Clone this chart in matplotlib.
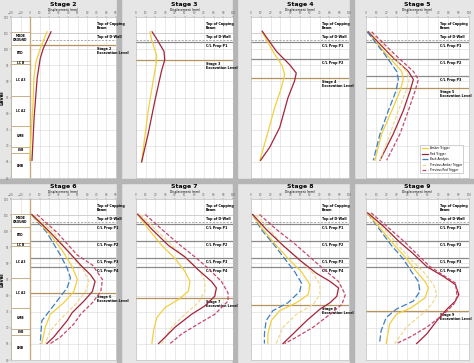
import numpy as np
import matplotlib.pyplot as plt
from matplotlib.patches import Rectangle

# ---------------------------------------------------------------- data
# levels (mOD) and displacements (mm)
stage2_amber_lvl = [105.4, 100.2, 96.2, 91.0, 83.9, 65.5]
stage2_amber = [17.7, 10.6, 6.3, 4.0, 3.2, -0.5]
stage2_red_lvl = [105.4, 100.2, 97.1, 91.0, 78.7, 65.5]
stage2_red = [21.9, 13.8, 10.6, 7.4, 4.2, 2.0]

stage3_amber_lvl = [105.4, 102.3, 98.3, 96.2, 90.2, 81.0, 65.0]
stage3_amber = [14.3, 16.6, 21.1, 21.1, 17.7, 12.6, 5.8]
stage3_red_lvl = [105.4, 103.3, 99.3, 96.7, 93.1, 83.9, 73.8, 65.0]
stage3_red = [16.6, 21.1, 28.9, 29.6, 26.2, 19.4, 12.6, 5.8]

stage4_amber_lvl = [105.4, 99.3, 94.7, 92.1, 88.0, 81.9, 72.7, 65.5]
stage4_amber = [11.4, 22.5, 32.0, 34.3, 31.0, 24.2, 15.8, 9.1]
stage4_red_lvl = [105.6, 99.3, 95.2, 92.6, 90.1, 84.9, 75.7, 69.6, 65.5]
stage4_red = [11.4, 26.0, 39.4, 46.2, 44.4, 37.7, 29.3, 19.2, 9.8]

stage5_lvl = [105.4, 98.3, 93.1, 90.6, 87.0, 80.9, 73.7, 65.5]
stage5_amber = [1.3, 20.1, 34.7, 36.2, 33.0, 25.0, 15.2, 8.7]
stage5_red = [2.3, 23.3, 41.1, 46.0, 42.7, 36.2, 26.5, 13.6]
stage5_back = [1.3, 18.4, 29.8, 31.4, 29.1, 21.7, 13.6, 7.1]
stage5_prev_amber = [3.9, 25.0, 39.5, 42.1, 38.8, 31.4, 23.3, 13.6]
stage5_prev_red = [5.5, 28.2, 46.0, 50.8, 47.6, 41.1, 33.0, 20.1]

stage6_red_lvl = [105.2, 99.6, 94.1, 89.5, 86.4, 84.4, 81.3, 78.3, 74.7, 72.2, 67.1, 65.1]
stage6_red = [1.8, 21.2, 38.8, 52.9, 63.5, 68.1, 65.3, 56.4, 44.1, 38.8, 24.7, 17.6]
stage6_prev_red_lvl = [105.2, 99.6, 92.6, 89.5, 85.0, 81.3, 77.8, 74.2, 71.2, 67.1, 65.1]
stage6_prev_red = [7.1, 28.2, 49.4, 65.3, 75.8, 74.1, 65.3, 52.9, 45.9, 31.7, 21.2]
stage6_amber_lvl = [105.0, 99.6, 94.1, 89.0, 85.0, 81.3, 77.8, 74.2, 70.2, 65.1]
stage6_amber = [1.8, 19.4, 33.5, 44.1, 49.4, 45.9, 35.3, 21.2, 15.9, 12.3]
stage6_prev_amber_lvl = [105.0, 99.6, 92.6, 88.5, 84.4, 81.3, 77.3, 73.2, 69.1, 65.1]
stage6_prev_amber = [3.5, 24.7, 42.3, 54.7, 61.7, 58.2, 47.6, 33.5, 21.2, 15.9]
stage6_back_lvl = [105.0, 99.6, 92.6, 88.5, 85.5, 82.4, 78.3, 74.2, 72.2, 65.1]
stage6_back = [1.8, 17.6, 31.7, 38.8, 42.3, 38.8, 28.2, 17.6, 12.3, 10.6]

stage7_red_lvl = [105.3, 100.6, 95.6, 92.0, 88.0, 84.4, 82.4, 79.8, 76.8, 74.2, 70.2, 67.1, 65.1]
stage7_red = [1.7, 16.4, 33.4, 50.5, 64.2, 77.8, 82.9, 81.2, 71.0, 57.3, 40.3, 30.0, 23.2]
stage7_prev_red_lvl = [105.2, 100.6, 96.1, 92.0, 88.5, 84.4, 80.8, 78.3, 74.2, 71.2, 68.1, 65.1]
stage7_prev_red = [9.5, 26.6, 43.7, 60.8, 74.4, 88.1, 94.9, 94.9, 81.2, 64.2, 47.1, 35.2]
stage7_amber_lvl = [105.2, 100.6, 95.6, 91.5, 87.5, 84.4, 81.3, 78.8, 76.3, 73.2, 69.1, 65.1]
stage7_amber = [1.7, 12.9, 26.6, 40.3, 50.5, 55.6, 53.9, 43.7, 30.0, 21.5, 18.1, 16.4]
stage7_prev_amber_lvl = [105.2, 100.6, 95.6, 91.0, 87.5, 84.4, 81.3, 77.8, 74.2, 70.2, 65.1]
stage7_prev_amber = [4.4, 19.8, 36.9, 53.9, 65.9, 71.0, 71.0, 64.2, 50.5, 36.9, 26.6]

stage8_red_lvl = [105.2, 100.6, 95.6, 91.0, 86.9, 84.4, 82.4, 79.8, 77.8, 75.8, 72.2, 68.1, 65.1]
stage8_red = [1.7, 15.4, 32.6, 49.8, 66.9, 80.7, 89.3, 87.6, 80.7, 70.4, 56.7, 42.9, 32.6]
stage8_prev_red_lvl = [105.2, 100.6, 96.1, 91.5, 87.4, 84.4, 80.3, 77.3, 74.2, 70.2, 67.1, 65.1]
stage8_prev_red = [8.6, 25.7, 44.6, 61.8, 77.2, 89.3, 96.2, 92.8, 80.7, 63.5, 46.4, 34.3]
stage8_amber_lvl = [105.0, 100.6, 95.6, 91.0, 87.4, 83.4, 80.3, 77.8, 75.3, 72.2, 68.1, 65.1]
stage8_amber = [1.7, 12.0, 25.7, 39.5, 51.5, 60.1, 58.4, 46.4, 29.2, 20.6, 17.2, 17.2]
stage8_prev_amber_lvl = [105.0, 100.6, 95.6, 91.0, 86.9, 83.4, 80.3, 77.3, 74.2, 70.2, 65.1]
stage8_prev_amber = [5.1, 18.9, 32.6, 49.8, 63.5, 70.4, 70.4, 63.5, 46.4, 32.6, 25.7]
stage8_back_lvl = [105.2, 100.6, 95.6, 91.5, 87.4, 83.9, 81.3, 77.8, 75.3, 72.2, 68.1, 65.1]
stage8_back = [1.7, 10.3, 24.0, 34.3, 44.6, 51.5, 49.8, 37.8, 22.3, 15.4, 13.7, 13.7]

stage9_red_lvl = [105.7, 101.7, 96.6, 93.0, 89.0, 85.9, 83.4, 80.3, 78.3, 75.8, 72.2, 68.1, 65.1]
stage9_red = [1.6, 16.4, 32.7, 45.9, 59.0, 75.4, 86.8, 90.1, 86.8, 78.6, 68.8, 59.0, 49.1]
stage9_prev_red_lvl = [105.7, 101.7, 96.6, 93.0, 89.0, 85.9, 83.9, 79.8, 77.3, 74.2, 70.2, 67.1, 65.1]
stage9_prev_red = [4.9, 19.6, 37.7, 49.1, 62.2, 77.0, 86.8, 88.5, 85.2, 75.4, 59.0, 42.6, 29.5]
stage9_amber_lvl = [105.5, 100.6, 95.6, 91.5, 87.4, 84.4, 82.4, 79.3, 76.3, 74.2, 71.2, 65.1]
stage9_amber = [1.6, 14.7, 27.8, 39.3, 49.1, 57.3, 60.6, 57.3, 44.2, 29.5, 22.9, 19.6]
stage9_prev_amber_lvl = [105.5, 100.6, 95.6, 91.0, 87.4, 83.4, 80.3, 77.3, 74.2, 70.2, 65.1]
stage9_prev_amber = [3.2, 18.0, 31.1, 44.2, 55.7, 65.5, 68.8, 63.9, 54.1, 39.3, 27.8]
stage9_back_lvl = [105.5, 100.6, 95.6, 91.5, 87.4, 84.4, 81.3, 78.3, 75.8, 73.2, 69.1, 65.1]
stage9_back = [1.6, 13.1, 24.6, 36.0, 44.2, 50.8, 52.4, 45.9, 29.5, 19.6, 14.7, 13.1]

# reference levels
capping_beam = 105.0
dwall_top = 103.0
prop_levels = [102.1, 96.9, 91.7, 88.9]
prop_names = ["C/L Prop P1", "C/L Prop P2", "C/L Prop P3", "C/L Prop P4"]
exc_levels = {2: 101.4, 3: 96.5, 4: 91.0, 5: 87.9, 6: 80.8, 7: 79.1, 8: 77.0, 9: 75.2}
props_installed = {2: 0, 3: 1, 4: 2, 5: 3, 6: 4, 7: 4, 8: 4, 9: 4}

strata_names = ["MADE\nGROUND", "RTD", "LC B", "LC A3", "LC A2", "UMB", "LSB", "LMB"]
strata_top = [105.4, 101.4, 96.2, 95.3, 85.5, 76.3, 69.5, 67.7]
strata_bot = [101.4, 96.2, 95.3, 85.5, 76.3, 69.5, 67.7, 60.0]

yticks = [110, 105, 100, 95, 90, 85, 80, 75, 70, 65, 60]

AMBER = "#f2cf3c"
RED = "#a3243b"
BLUE = "#3c7fc4"
PAMBER = "#f0d98c"
PRED = "#c4486a"
TAN = "#c3aa80"

# ---------------------------------------------------------------- figure
fig = plt.figure(figsize=(4.74, 3.63), dpi=100)
fig.patch.set_facecolor("#e6e6e6")
W, H = 474.0, 363.0

# darker separators between the panels
for x0 in [117, 233, 350]:
    fig.add_artist(Rectangle((x0 / W, 0), 4 / W, 1, transform=fig.transFigure,
                             color="#b5b5b5", zorder=0))
fig.add_artist(Rectangle((0, 1 - 183 / H), 1, 4 / H, transform=fig.transFigure,
                         color="#b5b5b5", zorder=0))

cols = [(11, 116), (136, 233), (251, 349), (366, 469)]
rows = [(17, 178), (199, 360)]


def make_axes(r, c):
    x0, x1 = cols[c]
    y0, y1 = rows[r]
    ax = fig.add_axes([x0 / W, 1 - y1 / H, (x1 - x0) / W, (y1 - y0) / H])
    ax.set_facecolor("white")
    return ax


def setup(ax, stage, first):
    if first:
        ax.set_xlim(-20, 90)
        ax.set_xticks(np.arange(-20, 91, 10))
    else:
        ax.set_xlim(0, 100)
        ax.set_xticks(np.arange(0, 101, 10))
    ax.set_ylim(60, 110)
    ax.set_yticks(yticks)
    ax.xaxis.tick_top()
    ax.tick_params(axis="both", labelsize=2.0, length=0.8, width=0.3, pad=0.5,
                   colors="#666666")
    ax.grid(True, color="#d8d8d8", lw=0.4)
    ax.set_axisbelow(True)
    if first:
        # y label placed by hand so it stays inside the figure
        ax.annotate("Level", xy=(0, 0.5), xycoords="axes fraction",
                    xytext=(-8.5, 0), textcoords="offset pixels", fontsize=3.5,
                    fontweight="bold", rotation=90, ha="center", va="center")
    else:
        ax.set_yticklabels([])
        ax.tick_params(axis="y", length=0)
    for s in ax.spines.values():
        s.set_color("#bbbbbb")
        s.set_linewidth(0.4)
    ax.annotate("Stage %d" % stage, xy=(0.5, 1), xycoords="axes fraction",
                xytext=(0, 12.5), textcoords="offset pixels", fontsize=4.4,
                fontweight="bold", ha="center", va="center")
    ax.annotate("Displacement (mm)", xy=(0.5, 1), xycoords="axes fraction",
                xytext=(0, 7.5), textcoords="offset pixels", fontsize=2.2,
                ha="center", va="center")
    lx = 70 if first else 72

    # reference lines and labels
    ax.axhline(capping_beam, color="#cccccc", lw=0.6)
    ax.text(lx, capping_beam + 1.0, "Top of Capping\nBeam", fontsize=2.4,
            fontweight="bold", va="bottom", linespacing=1.0)
    ax.axhline(dwall_top, color="#888888", lw=0.5, ls=(0, (3, 2)))
    ax.text(lx, dwall_top + 0.3, "Top of D-Wall", fontsize=2.4,
            fontweight="bold", va="bottom")
    for i in range(props_installed[stage]):
        ax.axhline(prop_levels[i], color="#8a8a8a", lw=0.9)
        ax.text(lx, prop_levels[i] - 0.6, prop_names[i], fontsize=2.4,
                fontweight="bold", va="top")
    ax.axhline(exc_levels[stage], color="#b4935c", lw=0.9)
    ax.text(lx, exc_levels[stage] - 0.6, "Stage %d\nExcavation Level" % stage,
            fontsize=2.4, fontweight="bold", va="top", linespacing=1.0)

    if first:
        for name, top, bot in zip(strata_names, strata_top, strata_bot):
            ax.add_patch(Rectangle((-20, bot), 20, top - bot, facecolor="white",
                                   edgecolor=TAN, lw=0.6, zorder=2))
            ax.text(-10, (top + bot) / 2, name, fontsize=2.2, fontweight="bold",
                    ha="center", va="center", zorder=3, linespacing=1.0)
        ax.axvline(0, color=TAN, lw=1.0, zorder=3)


def curve(ax, x, y, color, ls="-", lw=0.9, label=None):
    ax.plot(x, y, color=color, ls=ls, lw=lw, label=label, zorder=4)


DASH = (0, (3, 1.5))
LDASH = (0, (5, 2))

# Stage 2
ax = make_axes(0, 0)
setup(ax, 2, True)
curve(ax, stage2_amber, stage2_amber_lvl, AMBER)
curve(ax, stage2_red, stage2_red_lvl, RED)

# Stage 3
ax = make_axes(0, 1)
setup(ax, 3, False)
curve(ax, stage3_amber, stage3_amber_lvl, AMBER)
curve(ax, stage3_red, stage3_red_lvl, RED)

# Stage 4
ax = make_axes(0, 2)
setup(ax, 4, False)
curve(ax, stage4_amber, stage4_amber_lvl, AMBER)
curve(ax, stage4_red, stage4_red_lvl, RED)

# Stage 5
ax = make_axes(0, 3)
setup(ax, 5, False)
curve(ax, stage5_amber, stage5_lvl, AMBER, label="Amber Trigger")
curve(ax, stage5_red, stage5_lvl, RED, label="Red Trigger")
curve(ax, stage5_back, stage5_lvl, BLUE, ls=LDASH, label="Back Analysis")
curve(ax, stage5_prev_amber, stage5_lvl, PAMBER, ls=DASH, label="Previous Amber Trigger")
curve(ax, stage5_prev_red, stage5_lvl, PRED, ls=DASH, label="Previous Red Trigger")
leg = ax.legend(loc="lower right", bbox_to_anchor=(0.96, 0.02), fontsize=2.0,
                handlelength=2.4, frameon=True, fancybox=False, borderpad=0.5,
                labelspacing=0.5, handletextpad=0.5)
leg.get_frame().set_linewidth(0.4)
leg.get_frame().set_edgecolor("#999999")

# Stage 6
ax = make_axes(1, 0)
setup(ax, 6, True)
curve(ax, stage6_back, stage6_back_lvl, BLUE, ls=LDASH)
curve(ax, stage6_amber, stage6_amber_lvl, AMBER)
curve(ax, stage6_prev_amber, stage6_prev_amber_lvl, PAMBER, ls=DASH)
curve(ax, stage6_red, stage6_red_lvl, RED)
curve(ax, stage6_prev_red, stage6_prev_red_lvl, PRED, ls=DASH)

# Stage 7
ax = make_axes(1, 1)
setup(ax, 7, False)
curve(ax, stage7_amber, stage7_amber_lvl, AMBER)
curve(ax, stage7_prev_amber, stage7_prev_amber_lvl, PAMBER, ls=DASH)
curve(ax, stage7_red, stage7_red_lvl, RED)
curve(ax, stage7_prev_red, stage7_prev_red_lvl, PRED, ls=DASH)

# Stage 8
ax = make_axes(1, 2)
setup(ax, 8, False)
curve(ax, stage8_back, stage8_back_lvl, BLUE, ls=LDASH)
curve(ax, stage8_amber, stage8_amber_lvl, AMBER)
curve(ax, stage8_prev_amber, stage8_prev_amber_lvl, PAMBER, ls=DASH)
curve(ax, stage8_red, stage8_red_lvl, RED)
curve(ax, stage8_prev_red, stage8_prev_red_lvl, PRED, ls=DASH)

# Stage 9
ax = make_axes(1, 3)
setup(ax, 9, False)
curve(ax, stage9_back, stage9_back_lvl, BLUE, ls=LDASH)
curve(ax, stage9_amber, stage9_amber_lvl, AMBER)
curve(ax, stage9_prev_amber, stage9_prev_amber_lvl, PAMBER, ls=DASH)
curve(ax, stage9_red, stage9_red_lvl, RED)
curve(ax, stage9_prev_red, stage9_prev_red_lvl, PRED, ls=DASH)

plt.savefig("out.png", dpi=100, facecolor=fig.get_facecolor())
